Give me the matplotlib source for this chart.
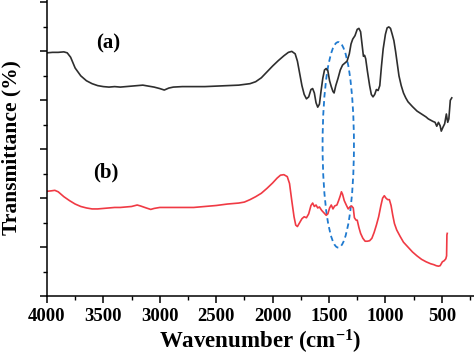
import matplotlib
matplotlib.use("Agg")
import matplotlib.pyplot as plt
from matplotlib.patches import Ellipse
from matplotlib.ticker import MultipleLocator
import numpy as np

plt.rcParams["mathtext.fontset"] = "custom"
plt.rcParams["mathtext.rm"] = "Liberation Serif:bold"
plt.rcParams["mathtext.bf"] = "Liberation Serif:bold"
plt.rcParams["mathtext.it"] = "Liberation Serif:bold"
plt.rcParams["mathtext.default"] = "rm"

# Curve (a)
wn_a = [4000, 3950, 3900, 3850, 3820, 3790, 3750, 3700, 3650, 3600, 3550, 3500, 3450, 3400,
        3350, 3300, 3250, 3200, 3150, 3100, 3050, 3000, 2960, 2920, 2880, 2800, 2700, 2600,
        2500, 2400, 2300, 2200, 2150, 2100, 2050, 2000, 1950, 1900, 1860, 1830, 1800, 1780,
        1760, 1740, 1720, 1700, 1680, 1660, 1645, 1630, 1615, 1600, 1585, 1570, 1555, 1540,
        1525, 1510, 1495, 1480, 1465, 1455, 1440, 1420, 1400, 1380, 1360, 1340, 1320, 1305,
        1290, 1270, 1250, 1235, 1220, 1205, 1195, 1185, 1175, 1160, 1140, 1125, 1110, 1095,
        1080, 1065, 1050, 1035, 1020, 1000, 985, 970, 955, 940, 925, 910, 895, 880, 860, 840,
        820, 800, 760, 720, 680, 640, 620, 580, 560, 545, 530, 515, 505, 490, 475, 460, 448,
        438, 425, 412]
t_a = [4.97, 4.98, 4.98, 4.99, 4.97, 4.88, 4.66, 4.50, 4.40, 4.34, 4.30, 4.28, 4.27, 4.28,
       4.27, 4.28, 4.29, 4.30, 4.31, 4.29, 4.27, 4.24, 4.21, 4.25, 4.27, 4.28, 4.28, 4.28,
       4.29, 4.30, 4.31, 4.34, 4.38, 4.46, 4.58, 4.70, 4.81, 4.91, 4.98, 5.00, 4.95, 4.80,
       4.55, 4.30, 4.12, 4.03, 4.07, 4.22, 4.24, 4.15, 3.95, 3.86, 3.92, 4.20, 4.45, 4.62,
       4.65, 4.60, 4.40, 4.28, 4.18, 4.15, 4.30, 4.45, 4.62, 4.72, 4.76, 4.80, 4.95, 5.15,
       5.25, 5.32, 5.45, 5.47, 5.40, 5.10, 4.90, 4.92, 4.85, 4.60, 4.30, 4.12, 4.07, 4.12,
       4.22, 4.20, 4.30, 4.70, 5.05, 5.35, 5.48, 5.50, 5.47, 5.35, 5.22, 5.00, 4.75, 4.50,
       4.30, 4.15, 4.05, 3.97, 3.87, 3.78, 3.72, 3.66, 3.62, 3.57, 3.55, 3.47, 3.55, 3.48,
       3.37, 3.45, 3.52, 3.72, 3.55, 3.62, 4.00, 4.05]

# Curve (b)
wn_b = [4000, 3960, 3930, 3900, 3850, 3800, 3750, 3700, 3650, 3600, 3550, 3500, 3450, 3400,
        3350, 3300, 3250, 3200, 3170, 3120, 3080, 3050, 3000, 2950, 2900, 2800, 2700, 2600,
        2500, 2400, 2300, 2250, 2200, 2150, 2100, 2050, 2000, 1960, 1930, 1900, 1870, 1850,
        1830, 1810, 1795, 1780, 1760, 1740, 1720, 1700, 1680, 1660, 1645, 1630, 1615, 1600,
        1585, 1565, 1545, 1525, 1510, 1495, 1480, 1465, 1450, 1430, 1415, 1400, 1390, 1380,
        1365, 1345, 1330, 1315, 1300, 1285, 1275, 1260, 1250, 1235, 1220, 1200, 1180, 1160,
        1140, 1120, 1100, 1080, 1060, 1040, 1025, 1010, 995, 980, 965, 950, 935, 920, 900,
        870, 840, 800, 760, 720, 680, 640, 600, 570, 550, 530, 515, 505, 495, 480, 465, 458,
        455, 452]
t_b = [2.14, 2.15, 2.16, 2.13, 2.03, 1.95, 1.88, 1.83, 1.80, 1.78, 1.78, 1.79, 1.80, 1.81,
       1.81, 1.82, 1.83, 1.86, 1.84, 1.80, 1.77, 1.79, 1.81, 1.81, 1.81, 1.81, 1.81, 1.83,
       1.85, 1.88, 1.90, 1.92, 1.97, 2.03, 2.10, 2.20, 2.31, 2.41, 2.47, 2.48, 2.44, 2.30,
       1.95, 1.62, 1.45, 1.42, 1.50, 1.58, 1.62, 1.60, 1.68, 1.85, 1.90, 1.83, 1.86, 1.80,
       1.82, 1.75, 1.70, 1.65, 1.68, 1.80, 1.86, 1.78, 1.84, 1.86, 1.95, 2.05, 2.13, 2.08,
       1.95, 1.85, 1.78, 1.82, 1.84, 1.80, 1.60, 1.55, 1.55, 1.40, 1.28, 1.18, 1.12, 1.12,
       1.13, 1.18, 1.30, 1.45, 1.62, 1.85, 2.00, 2.05, 2.00, 1.97, 1.97, 1.85, 1.65, 1.48,
       1.35, 1.22, 1.10, 1.00, 0.90, 0.82, 0.75, 0.70, 0.66, 0.64, 0.62, 0.61, 0.62, 0.66,
       0.70, 0.72, 0.76, 0.82, 1.25, 1.28]

x_ticks = [4000, 3500, 3000, 2500, 2000, 1500, 1000, 500]
labels = ["(a)", "(b)"]
label_pos = [(3460, 5.16), (3480, 2.53)]
ellipse_center = (1418, 3.09)
ellipse_size = (278, 4.2)

serif = ["Liberation Serif", "DejaVu Serif"]

fig = plt.figure(figsize=(4.74, 3.61), dpi=100)
ax = fig.add_axes([0.099, 0.18, 0.901, 0.82])

ax.plot(wn_a, t_a, color="#2e2e2e", lw=1.2)
ax.plot(wn_b, t_b, color="#f03a44", lw=1.2)

ax.add_patch(Ellipse(ellipse_center, ellipse_size[0], ellipse_size[1], fill=False,
                     edgecolor="#1f7ad0", lw=1.3, ls=(0, (3, 2))))

for lab, (x, y) in zip(labels, label_pos):
    ax.text(x, y, lab, fontsize=15, fontweight="bold", family=serif,
            ha="center", va="center")

ax.set_xlim(4000, 215)
ax.set_ylim(0, 6.05)
ax.set_xticks(x_ticks)
ax.set_xticklabels([str(v) for v in x_ticks], fontsize=13.5, fontweight="bold", family=serif)
ax.xaxis.set_minor_locator(MultipleLocator(250))
ax.yaxis.set_major_locator(MultipleLocator(1))
ax.yaxis.set_minor_locator(MultipleLocator(0.5))
ax.set_yticklabels([])
ax.tick_params(which="major", direction="out", length=5, width=1.1)
ax.tick_params(which="minor", direction="out", length=3, width=1.0)
for s in ["top", "right"]:
    ax.spines[s].set_visible(False)
for s in ["left", "bottom"]:
    ax.spines[s].set_linewidth(1.1)

ax.set_xlabel("Wavenumber (cm$^{-1}$)", fontsize=16.5, fontweight="bold",
              family=serif, labelpad=2)
ax.set_ylabel("Transmittance (%)", fontsize=15.5, fontweight="bold", family=serif,
              labelpad=10)

fig.savefig("out.png", dpi=100)
